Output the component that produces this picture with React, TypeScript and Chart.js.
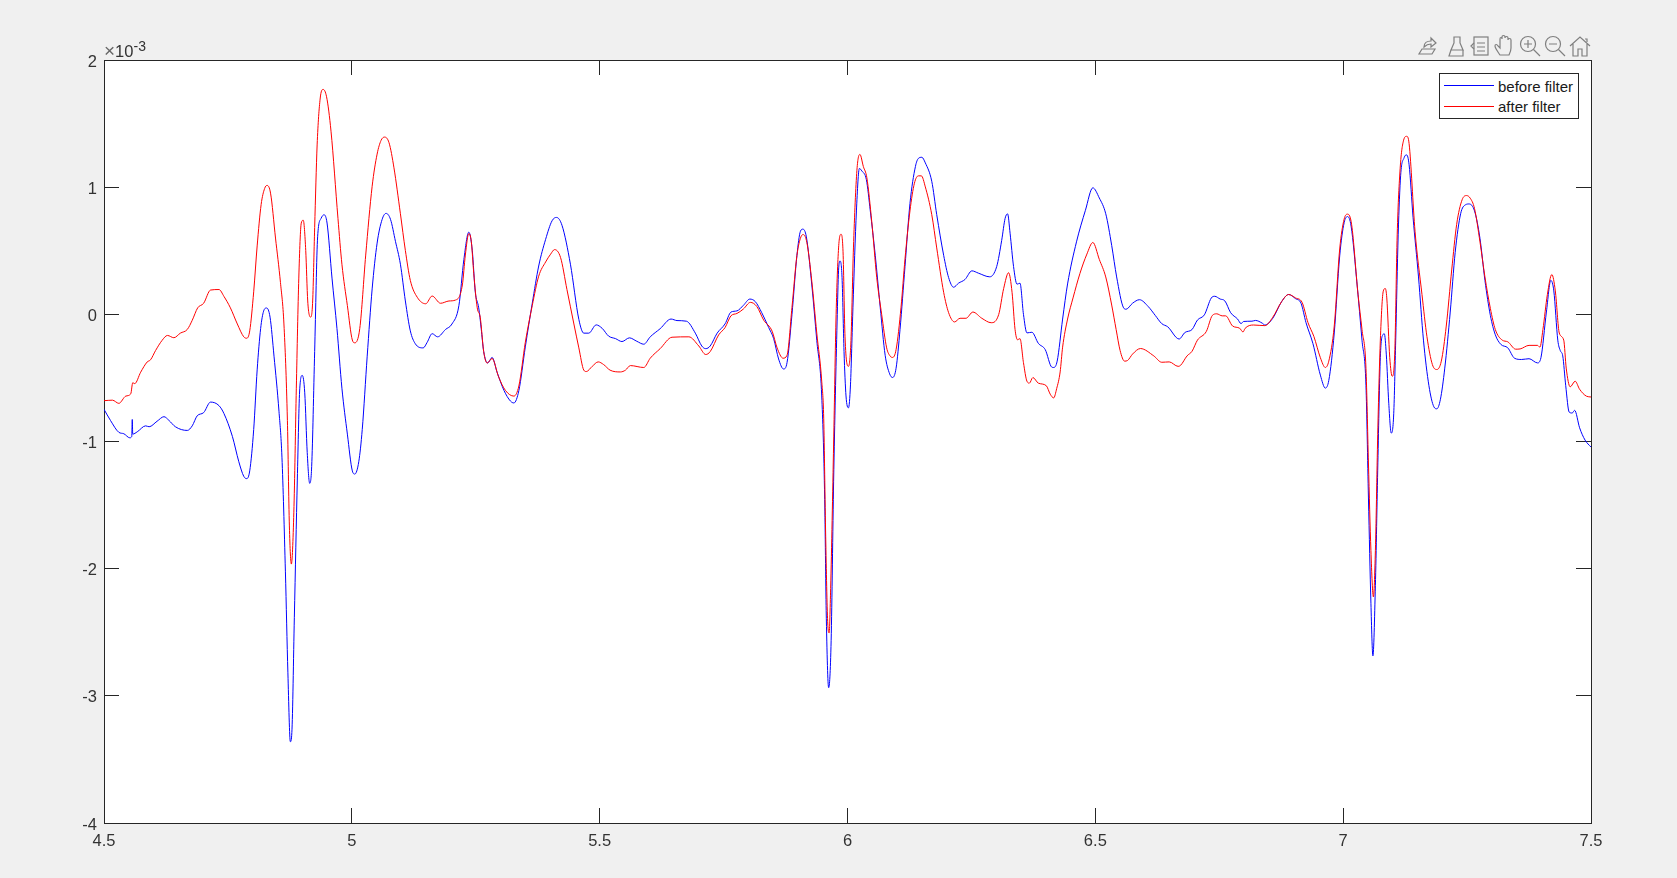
import React, { useEffect, useRef } from "react";
import { Chart, registerables } from "chart.js";

Chart.register(...registerables);

const blueX = [4.5,4.513,4.53,4.54,4.552,4.556,4.557,4.558,4.567,4.584,4.591,4.607,4.621,4.631,4.644,4.668,4.678,4.688,4.701,4.715,4.732,4.742,4.759,4.772,4.782,4.788,4.794,4.802,4.809,4.816,4.822,4.828,4.835,4.843,4.853,4.859,4.866,4.871,4.876,4.879,4.884,4.89,4.895,4.9,4.905,4.91,4.915,4.919,4.925,4.931,4.938,4.944,4.95,4.96,4.97,4.98,4.991,5.001,5.006,5.014,5.021,5.031,5.041,5.051,5.061,5.069,5.078,5.088,5.098,5.108,5.118,5.128,5.144,5.152,5.162,5.173,5.189,5.202,5.216,5.226,5.236,5.243,5.249,5.256,5.261,5.266,5.274,5.283,5.293,5.307,5.32,5.327,5.337,5.35,5.364,5.377,5.391,5.404,5.413,5.424,5.441,5.458,5.468,5.478,5.493,5.505,5.518,5.532,5.545,5.56,5.575,5.589,5.602,5.622,5.644,5.656,5.675,5.693,5.706,5.714,5.723,5.737,5.753,5.765,5.777,5.79,5.803,5.814,5.827,5.841,5.851,5.861,5.871,5.878,5.888,5.898,5.905,5.91,5.917,5.928,5.938,5.948,5.954,5.957,5.962,5.967,5.972,5.979,5.982,5.985,5.989,5.993,5.997,6.002,6.006,6.011,6.018,6.024,6.029,6.038,6.046,6.056,6.066,6.076,6.085,6.091,6.098,6.106,6.116,6.126,6.137,6.143,6.15,6.157,6.17,6.18,6.194,6.204,6.214,6.224,6.237,6.251,6.264,6.287,6.301,6.311,6.318,6.323,6.328,6.335,6.342,6.348,6.355,6.362,6.372,6.385,6.399,6.412,6.416,6.423,6.434,6.444,6.462,6.48,6.495,6.508,6.521,6.533,6.543,6.557,6.562,6.575,6.589,6.607,6.621,6.634,6.646,6.669,6.681,6.695,6.706,6.72,6.734,6.741,6.752,6.761,6.773,6.787,6.794,6.799,6.816,6.823,6.837,6.842,6.858,6.876,6.89,6.904,6.915,6.925,6.939,6.954,6.964,6.971,6.982,6.993,7.002,7.009,7.016,7.028,7.038,7.046,7.051,7.056,7.06,7.065,7.07,7.075,7.08,7.083,7.087,7.092,7.097,7.102,7.106,7.111,7.116,7.123,7.128,7.133,7.141,7.152,7.162,7.173,7.183,7.189,7.196,7.205,7.216,7.226,7.237,7.247,7.254,7.265,7.276,7.286,7.297,7.307,7.318,7.332,7.346,7.36,7.375,7.392,7.399,7.41,7.419,7.425,7.433,7.438,7.443,7.449,7.456,7.462,7.467,7.477,7.488,7.5];
const blueY = [-0.747,-0.834,-0.928,-0.939,-0.971,-0.96,-0.827,-0.942,-0.924,-0.877,-0.884,-0.841,-0.805,-0.834,-0.884,-0.913,-0.877,-0.798,-0.773,-0.69,-0.718,-0.78,-0.96,-1.159,-1.274,-1.292,-1.231,-0.906,-0.437,-0.112,0.025,0.05,-0.022,-0.329,-0.762,-1.123,-2.025,-2.819,-3.361,-3.289,-2.386,-1.303,-0.581,-0.48,-0.617,-1.087,-1.329,-1.195,-0.292,0.61,0.755,0.783,0.718,0.285,-0.112,-0.581,-0.942,-1.231,-1.256,-1.159,-0.906,-0.329,0.2,0.56,0.745,0.794,0.747,0.574,0.394,0.105,-0.13,-0.231,-0.264,-0.22,-0.152,-0.177,-0.119,-0.076,0.069,0.43,0.646,0.502,0.177,0.051,-0.112,-0.292,-0.383,-0.339,-0.455,-0.599,-0.682,-0.697,-0.599,-0.256,0.087,0.38,0.59,0.736,0.762,0.7,0.394,-0.04,-0.148,-0.148,-0.083,-0.11,-0.171,-0.191,-0.214,-0.185,-0.212,-0.235,-0.177,-0.113,-0.037,-0.049,-0.054,-0.148,-0.249,-0.27,-0.249,-0.148,-0.075,0.018,0.027,0.071,0.12,0.1,0.013,-0.104,-0.191,-0.351,-0.43,-0.38,0,0.464,0.653,0.67,0.609,0.231,-0.205,-0.642,-1.457,-2.33,-2.936,-2.563,-1.312,-0.06,0.347,0.42,0.289,-0.293,-0.642,-0.735,-0.555,0.056,0.813,1.147,1.127,1.06,0.813,0.464,0.056,-0.322,-0.468,-0.497,-0.424,-0.118,0.376,0.871,1.162,1.226,1.235,1.191,1.046,0.784,0.464,0.289,0.213,0.245,0.274,0.342,0.324,0.295,0.376,0.58,0.755,0.79,0.638,0.376,0.237,0.245,0,-0.146,-0.141,-0.228,-0.278,-0.415,-0.418,-0.368,-0.037,0.239,0.57,0.818,0.995,0.915,0.791,0.542,0.294,0.051,0.04,0.087,0.115,0.06,-0.009,-0.073,-0.098,-0.194,-0.142,-0.12,-0.045,-0.004,0.129,0.142,0.12,0.107,0.013,-0.037,-0.073,-0.056,-0.054,-0.048,-0.07,-0.084,-0.031,0.101,0.156,0.123,0.087,-0.065,-0.23,-0.478,-0.58,-0.52,-0.147,0.459,0.721,0.769,0.694,0.238,-0.203,-0.561,-1.444,-2.272,-2.686,-2.134,-1.168,-0.34,-0.161,-0.153,-0.313,-0.699,-0.934,-0.782,-0.203,0.625,1.094,1.232,1.254,1.177,0.763,0.294,-0.203,-0.561,-0.727,-0.743,-0.672,-0.423,0.018,0.487,0.791,0.862,0.868,0.813,0.597,0.267,-0.009,-0.161,-0.236,-0.263,-0.346,-0.355,-0.349,-0.382,-0.341,0.018,0.267,0.184,-0.203,-0.285,-0.327,-0.561,-0.769,-0.776,-0.755,-0.892,-0.989,-1.044];

const redX = [4.5,4.517,4.53,4.544,4.554,4.558,4.562,4.574,4.587,4.594,4.604,4.617,4.628,4.641,4.654,4.668,4.678,4.689,4.701,4.715,4.732,4.742,4.755,4.769,4.782,4.788,4.794,4.802,4.809,4.817,4.824,4.829,4.836,4.846,4.856,4.863,4.87,4.874,4.878,4.883,4.888,4.893,4.898,4.902,4.907,4.911,4.917,4.921,4.925,4.93,4.936,4.942,4.949,4.958,4.972,4.98,4.991,5.001,5.006,5.016,5.028,5.041,5.051,5.059,5.066,5.075,5.085,5.098,5.108,5.118,5.132,5.149,5.162,5.179,5.196,5.209,5.223,5.229,5.236,5.241,5.246,5.253,5.259,5.266,5.273,5.283,5.296,5.31,5.327,5.337,5.35,5.364,5.377,5.391,5.401,5.409,5.421,5.434,5.448,5.458,5.468,5.473,5.485,5.497,5.508,5.521,5.542,5.552,5.562,5.589,5.602,5.622,5.646,5.68,5.7,5.714,5.723,5.74,5.753,5.765,5.777,5.79,5.804,5.817,5.831,5.848,5.858,5.87,5.878,5.888,5.898,5.906,5.911,5.918,5.928,5.938,5.948,5.952,5.956,5.96,5.963,5.966,5.972,5.977,5.982,5.987,5.991,5.995,6.002,6.007,6.012,6.019,6.025,6.032,6.039,6.049,6.059,6.069,6.079,6.086,6.091,6.098,6.108,6.116,6.126,6.135,6.143,6.149,6.157,6.17,6.18,6.194,6.204,6.216,6.227,6.239,6.253,6.271,6.29,6.305,6.315,6.325,6.332,6.338,6.343,6.348,6.355,6.362,6.367,6.374,6.385,6.401,6.409,6.416,6.422,6.429,6.434,6.444,6.455,6.469,6.483,6.495,6.508,6.521,6.533,6.542,6.55,6.559,6.565,6.575,6.591,6.618,6.634,6.649,6.667,6.672,6.685,6.695,6.706,6.724,6.736,6.745,6.756,6.763,6.777,6.791,6.798,6.802,6.819,6.842,6.858,6.876,6.89,6.904,6.917,6.929,6.941,6.954,6.964,6.971,6.982,6.993,7.002,7.009,7.017,7.03,7.038,7.046,7.051,7.056,7.061,7.065,7.07,7.075,7.081,7.085,7.088,7.094,7.099,7.104,7.109,7.115,7.122,7.128,7.133,7.145,7.159,7.169,7.18,7.189,7.198,7.208,7.219,7.229,7.24,7.249,7.256,7.265,7.276,7.286,7.297,7.307,7.321,7.332,7.348,7.357,7.375,7.392,7.397,7.403,7.412,7.421,7.428,7.436,7.445,7.45,7.458,7.468,7.477,7.491,7.5];
const redY = [-0.679,-0.675,-0.7,-0.643,-0.625,-0.538,-0.545,-0.455,-0.375,-0.357,-0.285,-0.206,-0.166,-0.184,-0.148,-0.119,-0.047,0.051,0.087,0.191,0.195,0.141,0.051,-0.076,-0.177,-0.188,-0.13,0.177,0.538,0.863,0.989,1.014,0.953,0.6,0.25,-0.076,-0.834,-1.664,-1.964,-1.556,-0.581,0.285,0.718,0.74,0.502,0.105,-0.022,0.105,0.682,1.332,1.693,1.769,1.711,1.44,0.755,0.394,0.069,-0.202,-0.224,-0.112,0.466,1.007,1.26,1.368,1.394,1.35,1.152,0.791,0.502,0.267,0.134,0.083,0.144,0.087,0.105,0.112,0.231,0.466,0.635,0.574,0.321,0.051,-0.022,-0.292,-0.383,-0.347,-0.491,-0.599,-0.643,-0.563,-0.22,0.069,0.3,0.412,0.473,0.509,0.448,0.195,-0.076,-0.264,-0.439,-0.45,-0.409,-0.374,-0.395,-0.439,-0.453,-0.439,-0.403,-0.418,-0.345,-0.27,-0.18,-0.177,-0.249,-0.316,-0.293,-0.162,-0.104,-0.011,0.007,0.042,0.094,0.062,-0.046,-0.133,-0.264,-0.345,-0.322,0.056,0.464,0.609,0.627,0.565,0.26,-0.147,-0.526,-0.817,-1.748,-2.417,-2.505,-2.155,-1.02,-0.002,0.522,0.63,0.492,-0.177,-0.409,-0.206,0.522,1.133,1.258,1.162,1.075,0.726,0.289,-0.002,-0.264,-0.328,-0.339,-0.278,0.056,0.435,0.813,1.031,1.089,1.089,1.002,0.784,0.522,0.173,0.013,-0.06,-0.031,-0.031,0.018,-0.031,-0.066,-0.002,0.202,0.327,0.173,-0.118,-0.2,-0.191,-0.38,-0.526,-0.541,-0.497,-0.541,-0.561,-0.628,-0.657,-0.584,-0.453,-0.258,-0.037,0.129,0.322,0.474,0.565,0.432,0.294,0.073,-0.12,-0.285,-0.368,-0.363,-0.313,-0.269,-0.327,-0.377,-0.374,-0.409,-0.401,-0.327,-0.291,-0.203,-0.134,-0.009,0.004,-0.012,-0.012,-0.092,-0.109,-0.139,-0.111,-0.084,-0.089,-0.023,0.101,0.156,0.129,0.095,-0.065,-0.175,-0.341,-0.418,-0.368,-0.092,0.514,0.749,0.788,0.708,0.156,-0.12,-0.424,-1.169,-1.858,-2.222,-1.858,-0.893,-0.203,0.184,0.203,0.129,-0.341,-0.487,-0.313,0.625,1.149,1.37,1.4,1.343,0.653,0.156,-0.175,-0.395,-0.434,-0.368,-0.092,0.349,0.708,0.901,0.934,0.915,0.832,0.57,0.294,0.046,-0.12,-0.203,-0.216,-0.274,-0.272,-0.244,-0.244,-0.258,-0.12,0.156,0.313,0.184,-0.147,-0.203,-0.423,-0.57,-0.526,-0.589,-0.644,-0.65];

const xTicks = [4.5, 5, 5.5, 6, 6.5, 7, 7.5];
const yTicks = [-4, -3, -2, -1, 0, 1, 2];
const seriesNames = ["before filter", "after filter"];
const seriesColors = ["#0000ff", "#ff0000"];
const axisColor = "#262626";
const labelColor = "#333333";
const exponentBase = "10";
const exponentPower = "-3";

const toPoints = (xs: number[], ys: number[]) =>
  xs.slice(0, Math.min(xs.length, ys.length)).map((x, i) => ({ x, y: ys[i] }));

const icon = (x: number, body: React.ReactNode) => (
  <svg
    key={x}
    width={24}
    height={24}
    viewBox="0 0 24 24"
    fill="none"
    stroke="#7f7f7f"
    strokeWidth={1.2}
    style={{ position: "absolute", left: x - 12, top: 34 }}
  >
    {body}
  </svg>
);

export default function App() {
  const ref = useRef<HTMLCanvasElement>(null);

  useEffect(() => {
    const tickOpts = () => ({
      drawOnChartArea: false,
      drawTicks: true,
      tickLength: -15,
      tickColor: axisColor,
      lineWidth: 1,
    });
    const font = { family: "'Liberation Sans', Arial, sans-serif", size: 16.5 };
    const setX = (s: any) => { s.ticks = xTicks.map((value) => ({ value })); };
    const setY = (s: any) => { s.ticks = yTicks.map((value) => ({ value })); };
    const chart = new Chart(ref.current as HTMLCanvasElement, {
      type: "scatter",
      data: {
        datasets: [
          {
            label: seriesNames[1],
            data: toPoints(redX, redY),
            borderColor: seriesColors[1],
            backgroundColor: seriesColors[1],
            borderWidth: 1,
            pointRadius: 0,
            showLine: true,
            cubicInterpolationMode: "monotone",
          },
          {
            label: seriesNames[0],
            data: toPoints(blueX, blueY),
            borderColor: seriesColors[0],
            backgroundColor: seriesColors[0],
            borderWidth: 1,
            pointRadius: 0,
            showLine: true,
            cubicInterpolationMode: "monotone",
          },
        ],
      },
      options: {
        animation: false,
        responsive: false,
        layout: { padding: { top: 60, right: 86, left: 0, bottom: 0 } },
        plugins: { legend: { display: false }, tooltip: { enabled: false } },
        scales: {
          x: {
            type: "linear",
            position: "bottom",
            min: 4.5,
            max: 7.5,
            afterBuildTicks: setX,
            afterFit: (s: any) => { s.height = 55; },
            grid: tickOpts(),
            border: { color: axisColor, width: 1 },
            ticks: {
              autoSkip: false,
              maxRotation: 0,
              padding: 24,
              color: labelColor,
              font,
              callback: (v: any) => String(v),
            },
          },
          y: {
            type: "linear",
            position: "left",
            min: -4,
            max: 2,
            afterBuildTicks: setY,
            afterFit: (s: any) => { s.width = 104; },
            grid: tickOpts(),
            border: { color: axisColor, width: 1 },
            ticks: {
              autoSkip: false,
              padding: 22,
              labelOffset: 2,
              color: labelColor,
              font,
              callback: (v: any) => String(v),
            },
          },
          xTop: {
            type: "linear",
            position: "top",
            min: 4.5,
            max: 7.5,
            afterBuildTicks: setX,
            afterFit: (s: any) => { s.height = 0; },
            grid: tickOpts(),
            border: { color: axisColor, width: 1 },
            ticks: { display: false },
          },
          yRight: {
            type: "linear",
            position: "right",
            min: -4,
            max: 2,
            afterBuildTicks: setY,
            afterFit: (s: any) => { s.width = 0; },
            grid: tickOpts(),
            border: { color: axisColor, width: 1 },
            ticks: { display: false },
          },
        },
      },
    } as any);
    return () => chart.destroy();
  }, []);

  const legendText: React.CSSProperties = {
    position: "absolute",
    left: 58,
    font: "15px 'Liberation Sans', Arial, sans-serif",
    color: "#1a1a1a",
    lineHeight: "18px",
    whiteSpace: "nowrap",
  };

  return (
    <div style={{ position: "fixed", left: 0, top: 0, width: 1677, height: 878, background: "#f0f0f0", overflow: "hidden" }}>
      <div style={{ position: "absolute", left: 104, top: 60, width: 1487, height: 763, background: "#fff" }} />
      <canvas ref={ref} width={1677} height={878} style={{ position: "absolute", left: 0, top: 0, display: "block" }} />

      <div style={{ position: "absolute", left: 104, top: 41, font: "16.5px 'Liberation Sans', Arial, sans-serif", color: labelColor, whiteSpace: "nowrap", lineHeight: "20px" }}>
        <span style={{ fontSize: 19, color: "#666" }}>×</span>
        {exponentBase}
        <span style={{ fontSize: 14, position: "relative", top: -6 }}>{exponentPower}</span>
      </div>

      <div style={{ position: "absolute", left: 1439, top: 73, width: 138, height: 44, background: "#fff", border: `1px solid ${axisColor}` }}>
        <div style={{ position: "absolute", left: 4, top: 11, width: 50, height: 1, background: seriesColors[0] }} />
        <div style={{ ...legendText, top: 4 }}>{seriesNames[0]}</div>
        <div style={{ position: "absolute", left: 4, top: 32, width: 50, height: 1, background: seriesColors[1] }} />
        <div style={{ ...legendText, top: 24 }}>{seriesNames[1]}</div>
      </div>

      {icon(1428, <g><path d="M3 20h13l3-5H6z" /><path d="M8 13c0-4 3-6 7-6V4l5 5-5 4v-3c-3 0-5 1-7 3z" /></g>)}
      {icon(1456, <g><path d="M10 3h6v6l3 7H7l3-7z" /><path d="M7 16l-2 6h14l0-6" /></g>)}
      {icon(1480, <g><rect x="6" y="3" width="14" height="18" /><path d="M9 9h8M9 13h8M9 17h8M6 9l-3 3 3 3" /></g>)}
      {icon(1505, <path d="M7 21c-2-3-5-7-5-9s2-2 3 0l2 2V5c0-2 2-2 2 0V3c0-2 3-2 3 0v1c0-2 3-2 3 0v2c0-2 3-2 3 0v8c0 3-1 5-2 7z" />)}
      {icon(1530, <g><circle cx="10" cy="10" r="7.5" /><path d="M15.5 15.5L22 22M6 10h8M10 6v8" /></g>)}
      {icon(1555, <g><circle cx="10" cy="10" r="7.5" /><path d="M15.5 15.5L22 22M6 10h8" /></g>)}
      {icon(1580, <g><path d="M2 12L12 3l10 9M5 10v12h5v-7h4v7h5V10" /><path d="M17 5h2v3" /></g>)}
    </div>
  );
}
